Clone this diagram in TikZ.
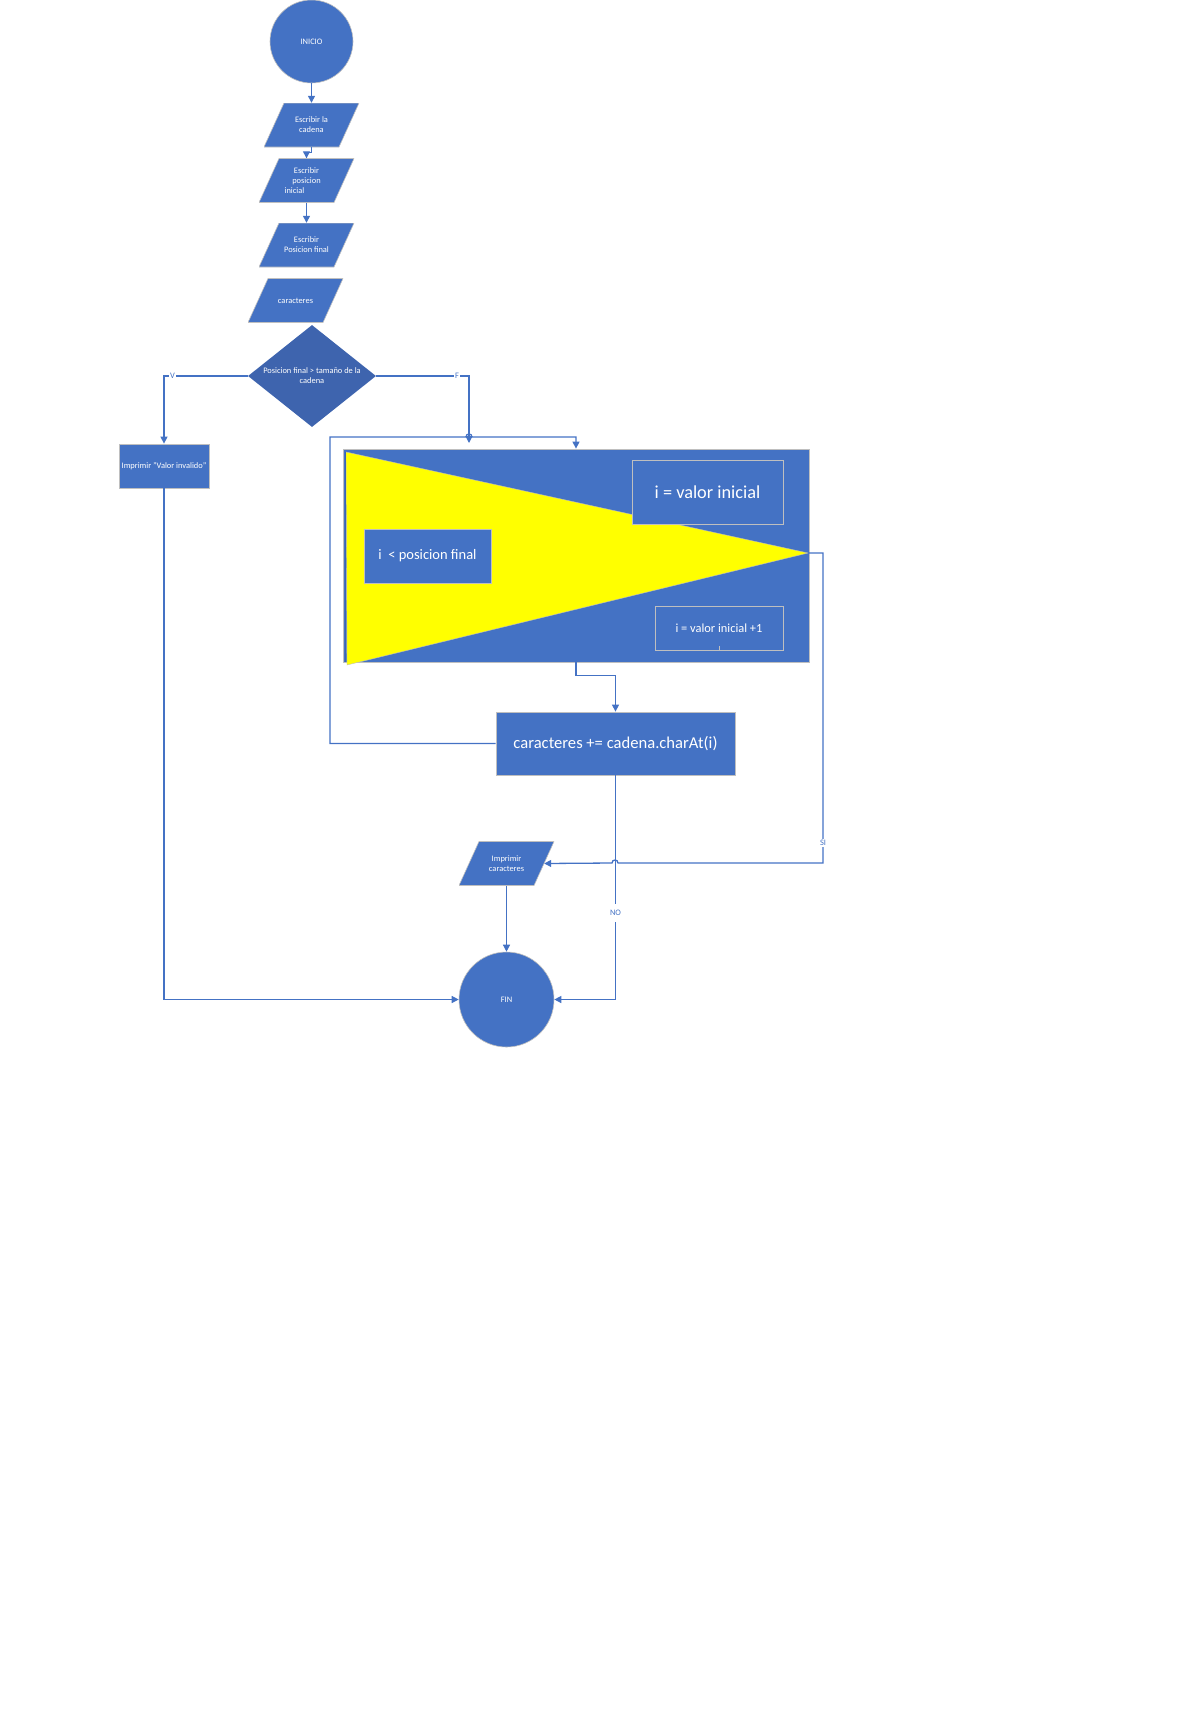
\documentclass[tikz,border=0pt]{standalone}
\usepackage{fontspec}
\setmainfont{Carlito}
\usepackage{xcolor}
\usetikzlibrary{shapes.geometric,arrows.meta}
\definecolor{azul}{HTML}{4472C4}
\definecolor{azuloscuro}{HTML}{3E64AE}
\definecolor{amarillo}{HTML}{FFFF00}
\definecolor{borde}{HTML}{BFBFBF}
\newcommand{\chico}{\fontsize{8.4}{10}\selectfont}

\begin{document}
\begin{tikzpicture}[x=1pt,y=-1pt,>={Triangle[length=7pt,width=7pt]},
	linea/.style={azul,line width=1.3pt},
	etiqueta/.style={fill=white,text=azul,font=\chico,inner sep=1pt},
	terminal/.style={circle,fill=azul,draw=borde,line width=0.6pt,text=white,font=\chico},
	proceso/.style={rectangle,fill=azul,draw=borde,line width=0.8pt,text=white},
	entrada/.style={rectangle,minimum width=95pt,minimum height=44pt,inner sep=1pt,text=white,font=\chico,align=center,
		path picture={\fill[azul,draw=borde,line width=0.6pt] ([xshift=20pt]path picture bounding box.north west) -- (path picture bounding box.north east) -- ([xshift=-20pt]path picture bounding box.south east) -- (path picture bounding box.south west) -- cycle ;}},
	decision/.style={diamond,fill=azuloscuro,text=white,font=\chico,align=center,inner sep=0pt,shape aspect=1.255,minimum width=128pt,minimum height=102pt}]
	\useasboundingbox (0,0) rectangle (1200,1713) ;
	\node[terminal,minimum size=83pt] (inicio) at (311.5,41.5) {INICIO} ;
	\node[entrada] (cadena) at (311.5,125) {Escribir la\\cadena} ;
	\node[entrada] (posini) at (306.5,180.5) {Escribir\\posicion\\inicial\hspace*{24pt}} ;
	\node[entrada] (posfin) at (306.5,245) {Escribir\\Posicion final} ;
	\node[entrada] (carac) at (295.5,300.5) {caracteres} ;
	\node[decision] (compara) at (312,376) {Posicion final > tamaño de la\\cadena} ;
	\node[proceso,font=\chico,inner xsep=1pt,minimum width=90pt,minimum height=44pt] (invalido) at (164,466) {Imprimir "Valor invalido"} ;
	\node[proceso,minimum width=466pt,minimum height=213pt] (ciclo) at (576,555.5) {} ;
	\fill[amarillo,draw=borde,line width=0.4pt] (346,452) -- (808,553) coordinate (punta) -- (347,665) -- cycle ;
	\draw[azuloscuro,line width=0.8pt] (345,452) -- (345,662) ;
	\node[proceso,font=\fontsize{18.3}{22}\selectfont,minimum width=151pt,minimum height=64pt] (inicial) at (707.5,492) {i = valor inicial} ;
	\node[proceso,font=\fontsize{14.5}{17}\selectfont,minimum width=127pt,minimum height=54pt] (condicion) at (427.5,556) {i\ \ < posicion final} ;
	\node[proceso,font=\fontsize{12.4}{15}\selectfont,minimum width=128pt,minimum height=44pt] (incremento) at (719,628) {i = valor inicial +1} ;
	\draw[borde,line width=0.6pt] (incremento.south) -- ++(0,-4) ;
	\node[proceso,font=\fontsize{16.6}{20}\selectfont,minimum width=239pt,minimum height=63pt] (acumula) at (615.5,743.5) {caracteres += cadena.charAt(i)} ;
	\node[entrada] (imprime) at (506.5,863.5) {Imprimir\\caracteres} ;
	\node[terminal,minimum size=95pt] (fin) at (506.5,999.5) {FIN} ;
	\coordinate (llegaF) at (469,443) ;
	\coordinate (esquina) at (330,437) ;
	\draw[linea,->] (inicio) -- (cadena) ;
	\draw[linea,->] (cadena.south) -- ++(0,5) -| (posini.north) ;
	\draw[linea,->] (posini) -- (posfin) ;
	\draw[linea,->] (compara.west) -| node[etiqueta,pos=0.45]{V} (invalido.north) ;
	\draw[linea,->] (compara.east) -| node[etiqueta,pos=0.435]{F} (llegaF) ;
	\draw[linea,->] (acumula.west) -| (esquina) -- (466,437) .. controls (466,433) and (472,433) .. (472,437) -| (ciclo.north) ;
	\draw[linea,->] (ciclo.south) -- ++(0,13) -| (acumula.north) ;
	\draw[linea,->] (punta) -- ++(15,0) |- node[etiqueta,pos=0.468]{SI} (618,863) .. controls (618,859) and (612,859) .. (612,863) -- ([xshift=-10pt]imprime.east) ;
	\draw[linea,->] (acumula.south) |- node[etiqueta,inner ysep=6pt,pos=0.307]{NO} (fin.east) ;
	\draw[linea,->] (imprime) -- (fin) ;
	\draw[linea,->] (invalido.south) |- (fin.west) ;
\end{tikzpicture}
\end{document}
